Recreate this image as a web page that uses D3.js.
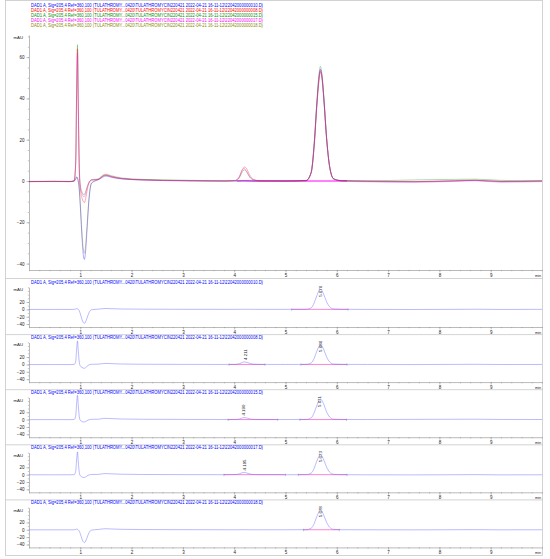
<!DOCTYPE html>
<html>
<head>
<meta charset="utf-8">
<script src="https://cdn.jsdelivr.net/npm/d3@7"></script>
<style>
  body { margin: 0; background: #fff; }
  svg { display: block; font-family: "Liberation Sans", Arial, sans-serif; }
</style>
</head>
<body>
<div id="chart"></div>
<script>
// Retention times (min) shared by every trace
const times = [0, 0.5, 0.8, 0.88, 0.91, 0.93, 0.945, 0.96, 0.98, 1.0,
  1.03, 1.06, 1.08, 1.1, 1.13, 1.17, 1.22, 1.35, 1.45, 1.5,
  1.6, 1.8, 2.2, 3.0, 3.8, 4.02, 4.1, 4.16, 4.2, 4.24,
  4.3, 4.38, 4.5, 5.0, 5.4, 5.5, 5.56, 5.61, 5.65, 5.68,
  5.71, 5.75, 5.8, 5.86, 5.94, 6.1, 6.6, 7.5, 8.3, 8.7,
  9.2, 10];

// Signal (mAU), one array per injection
const sig010 = [-0.3, -0.2, -0.3, 0, 1, 2, 1.5, 0, -4, -12,
  -26, -36, -38, -35, -24, -9, -1, 0.6, 2, 2.4,
  1.8, 1, 0.5, 0.1, 0, 0, 0.1, 0.2, 0.2, 0.2,
  0.1, 0, 0, 0, 0.2, 4, 18, 37, 50, 54,
  51, 39, 21, 7, 1, 0.1, -0.2, -0.4, 0, 0.3,
  -0.3, 0];
const sig008 = [-0.3, -0.2, -0.3, 0, 8, 45, 64, 38, 6, -4,
  -8, -10, -10.5, -9, -5, -1, 0.5, 0.8, 2.5, 2.8,
  2.2, 1.2, 0.6, 0.2, 0, 0.2, 2, 5.5, 6.8, 6,
  3, 0.8, 0.1, 0, 0.2, 4, 17, 36, 48, 53,
  50, 39, 21, 7, 1, 0.2, 0, -0.3, 0.2, 0.4,
  -0.2, 0];
const sig015 = [-0.2, -0.1, -0.2, 0.2, 9, 47, 66, 40, 8, -2,
  -5, -6.5, -6.5, -5.5, -3, -0.5, 0.6, 1, 3, 3.3,
  2.6, 1.5, 0.8, 0.4, 0.1, 0.2, 1.5, 4.5, 5.4, 4.5,
  2, 0.5, 0.1, 0.1, 0.3, 4.5, 19, 38, 51, 55.5,
  52, 40, 21.5, 7, 1, 0.2, 0.1, 0.5, 0.8, 0.9,
  0.3, 0.1];
const sig017 = [-0.3, -0.3, -0.3, 0, 9, 44, 62, 36, 6, -3,
  -6, -7.5, -7.5, -6.5, -3.5, -0.8, 0.4, 0.7, 2.6, 2.9,
  2.2, 1.2, 0.5, 0.1, -0.1, 0.3, 2.2, 5.5, 6, 4.8,
  2, 0.4, 0, -0.2, 0, 4, 18, 37, 49, 54,
  50.5, 39, 21, 7, 1, -0.1, -0.4, -0.6, -0.2, 0.1,
  -0.6, -0.3];
const sig018 = [-0.2, -0.2, -0.2, 0, 0.8, 1.8, 1.2, -0.3, -4, -11,
  -24, -33, -35, -32, -22, -8, -1, 0.8, 2.4, 2.8,
  2.1, 1.2, 0.6, 0.2, 0, 0, 0.1, 0.2, 0.2, 0.1,
  0, 0, 0, 0, 0.2, 4, 17, 36, 48, 53,
  50, 38, 20.5, 7, 1, 0.1, -0.1, -0.3, 0.1, 0.3,
  -0.2, 0];

const fileIds  = ["010", "008", "015", "017", "018"];
const signals  = [sig010, sig008, sig015, sig017, sig018];
const colors   = ["#0000ff", "#ff0000", "#009000", "#ff00ff", "#8a8a00"];

// Integrated peaks (retention time labels) per injection
const peakLabels010 = [5.676];
const peakLabels008 = [4.211, 5.686];
const peakLabels015 = [4.190, 5.671];
const peakLabels017 = [4.195, 5.673];
const peakLabels018 = [5.678];
const peakLabels = [peakLabels010, peakLabels008, peakLabels015, peakLabels017, peakLabels018];

// Integration baselines (start, end in min)
const baselines = [
  [[5.12, 6.22]],
  [[3.9, 4.6], [5.3, 6.2]],
  [[3.88, 4.85], [5.28, 6.19]],
  [[3.8, 5.0], [5.25, 6.2]],
  [[5.35, 6.05]]
];

const xTickValues   = [1, 2, 3, 4, 5, 6, 7, 8, 9];
const yTicksOverlay = [60, 40, 20, 0, -20, -40];
const yTicksSingle  = [20, 0, -20, -40];

const titleFor = id => `DAD1 A, Sig=205,4 Ref=360,100 (TULATHROMY...0420\\TULATHROMYCIN220421 2022-04-21 16-11-12\\22042000000${id}.D)`;

// Size
const W = 550, H = 559;
const svg = d3.select("#chart").append("svg")
  .attr("width", W).attr("height", H);

const x = d3.scaleLinear().domain([0, 10]).range([29, 542]);
const gray = "#8c8c8c";
const fontFam = "Liberation Sans, Arial, sans-serif";

// Outer frame
svg.append("rect")
  .attr("x", 5.5).attr("y", 0.5)
  .attr("width", 537).attr("height", 555)
  .attr("fill", "none").attr("stroke", "#c8c8c8").attr("stroke-width", 0.8);

function styleAxis(g) {
  g.attr("font-size", 4.5).attr("font-family", fontFam);
  g.selectAll("path").attr("stroke", gray).attr("stroke-width", 0.6);
  g.selectAll("line").attr("stroke", gray).attr("stroke-width", 0.5);
  g.selectAll("text").attr("fill", "#222");
}

function drawXAxis(yPos) {
  const major = svg.append("g").attr("transform", `translate(0,${yPos})`)
    .call(d3.axisBottom(x).tickValues(xTickValues).tickSize(2.5).tickSizeOuter(0).tickPadding(1));
  styleAxis(major);
  const minor = svg.append("g").attr("transform", `translate(0,${yPos})`)
    .call(d3.axisBottom(x).ticks(50).tickSize(1.2).tickSizeOuter(0).tickFormat(""));
  styleAxis(minor);
  minor.select("path").remove();
  svg.append("text")
    .attr("x", 538).attr("y", yPos + 6.5)
    .attr("font-size", 3.8).attr("font-family", fontFam)
    .attr("text-anchor", "middle").attr("fill", "#222")
    .text("min");
}

function drawYAxis(y, ticks, nMinor) {
  const major = svg.append("g").attr("transform", "translate(29,0)")
    .call(d3.axisLeft(y).tickValues(ticks).tickSize(2.5).tickSizeOuter(0).tickPadding(2));
  styleAxis(major);
  const minor = svg.append("g").attr("transform", "translate(29,0)")
    .call(d3.axisLeft(y).ticks(nMinor).tickSize(1.2).tickSizeOuter(0).tickFormat(""));
  styleAxis(minor);
  minor.select("path").remove();
  svg.append("text")
    .attr("x", 23).attr("y", y.range()[1] + 4)
    .attr("font-size", 4.3).attr("font-family", fontFam)
    .attr("text-anchor", "end").attr("fill", "#222")
    .text("mAU");
}

// ---------- Overlay panel ----------
fileIds.forEach((id, i) => {
  svg.append("text")
    .attr("x", 31).attr("y", 6.8 + i * 5)
    .attr("font-size", 5).attr("font-family", fontFam)
    .attr("fill", colors[i])
    .attr("textLength", 232).attr("lengthAdjust", "spacingAndGlyphs")
    .text(titleFor(id));
});

const yTop = d3.scaleLinear().domain([-43.1, 70.7]).range([270, 35]);
drawYAxis(yTop, yTicksOverlay, 25);
drawXAxis(270);

// magenta integration baseline visible in the overlay
svg.append("line")
  .attr("x1", x(4.05)).attr("x2", x(6.2))
  .attr("y1", yTop(0)).attr("y2", yTop(0))
  .attr("stroke", "#ff00ff").attr("stroke-width", 1.1);

const lineTop = d3.line()
  .x(d => x(d[0])).y(d => yTop(d[1]))
  .curve(d3.curveMonotoneX);

[4, 0, 2, 1, 3].forEach(i => {
  svg.append("path")
    .datum(times.map((t, j) => [t, signals[i][j]]))
    .attr("d", lineTop)
    .attr("fill", "none")
    .attr("stroke", colors[i])
    .attr("stroke-opacity", 0.55)
    .attr("stroke-width", 0.6);
});

// separator
svg.append("line").attr("x1", 5.5).attr("x2", 542.5)
  .attr("y1", 278.5).attr("y2", 278.5)
  .attr("stroke", "#c8c8c8").attr("stroke-width", 0.8);

// ---------- Single injection panels ----------
fileIds.forEach((id, k) => {
  const zero = 309.3 + 55.1 * k;
  const y = d3.scaleLinear().domain([-48, 60]).range([zero + 17.7, zero - 22]);

  svg.append("text")
    .attr("x", 31).attr("y", zero - 25.6)
    .attr("font-size", 5).attr("font-family", fontFam)
    .attr("fill", "#0000ff")
    .attr("textLength", 232).attr("lengthAdjust", "spacingAndGlyphs")
    .text(titleFor(id));

  drawYAxis(y, yTicksSingle, 10);
  drawXAxis(zero + 17.7);

  // integration baselines
  baselines[k].forEach(b => {
    svg.append("line")
      .attr("x1", x(b[0])).attr("x2", x(b[1]))
      .attr("y1", y(0)).attr("y2", y(0))
      .attr("stroke", "#ff66cc").attr("stroke-width", 0.8);
    b.forEach(t => {
      svg.append("line")
        .attr("x1", x(t)).attr("x2", x(t))
        .attr("y1", y(0) - 1).attr("y2", y(0) + 1.5)
        .attr("stroke", "#777").attr("stroke-width", 0.4);
    });
  });

  const line = d3.line()
    .x(d => x(d[0])).y(d => y(d[1]))
    .curve(d3.curveMonotoneX);

  svg.append("path")
    .datum(times.map((t, j) => [t, signals[k][j]]))
    .attr("d", line)
    .attr("fill", "none")
    .attr("stroke", "#7070ff")
    .attr("stroke-opacity", 0.8)
    .attr("stroke-width", 0.6);

  // retention time labels
  peakLabels[k].forEach(rt => {
    const apex = d3.max(times.map((t, j) => Math.abs(t - rt) <= 0.06 ? signals[k][j] : -Infinity));
    const start = Math.max(y(apex) - 2, zero - 12.5);
    svg.append("text")
      .attr("transform", `translate(${x(rt)},${start}) rotate(-90)`)
      .attr("dy", "0.35em")
      .attr("font-size", 4.4).attr("font-family", fontFam)
      .attr("fill", "#222")
      .text(rt.toFixed(3));
  });

  if (k < 4) {
    svg.append("line").attr("x1", 5.5).attr("x2", 542.5)
      .attr("y1", zero + 25.3).attr("y2", zero + 25.3)
      .attr("stroke", "#c8c8c8").attr("stroke-width", 0.8);
  }
});
</script>
</body>
</html>
